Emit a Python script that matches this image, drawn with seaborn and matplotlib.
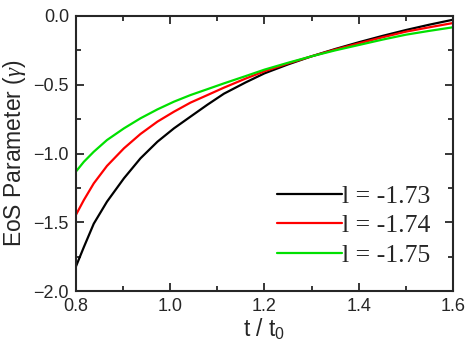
import numpy as np
import pandas as pd
import matplotlib
matplotlib.use("Agg")
import matplotlib.pyplot as plt
import seaborn as sns
from matplotlib.ticker import MultipleLocator

t_vals = [0.800, 0.817, 0.838, 0.866, 0.902, 0.937, 0.973, 1.008, 1.043, 1.079,
          1.114, 1.160, 1.200, 1.250, 1.300, 1.350, 1.400, 1.450, 1.500, 1.550, 1.600]
gamma_173 = [-1.823, -1.680, -1.510, -1.350, -1.180, -1.035, -0.914, -0.817, -0.732, -0.645,
             -0.565, -0.483, -0.417, -0.352, -0.293, -0.240, -0.191, -0.145, -0.102, -0.063, -0.027]
gamma_174 = [-1.447, -1.338, -1.217, -1.090, -0.962, -0.858, -0.768, -0.696, -0.630, -0.575,
             -0.521, -0.455, -0.402, -0.345, -0.293, -0.244, -0.199, -0.155, -0.114, -0.082, -0.051]
gamma_175 = [-1.132, -1.060, -0.987, -0.902, -0.817, -0.744, -0.679, -0.623, -0.575, -0.532,
             -0.490, -0.437, -0.390, -0.340, -0.293, -0.250, -0.211, -0.172, -0.136, -0.108, -0.082]
labels = ["l = -1.73", "l = -1.74", "l = -1.75"]
colors = ["#000000", "#ff0000", "#00e000"]

df = pd.concat([
    pd.DataFrame({"t": t_vals, "gamma": g, "series": lab})
    for g, lab in zip([gamma_173, gamma_174, gamma_175], labels)
])

sns.set_style("ticks")
plt.rcParams["font.family"] = ["Liberation Sans", "DejaVu Sans"]
plt.rcParams["mathtext.fontset"] = "custom"
plt.rcParams["mathtext.rm"] = "Liberation Sans"
plt.rcParams["mathtext.it"] = "Liberation Serif:italic"

fig = plt.figure(figsize=(4.74, 3.55), dpi=100)
ax = fig.add_axes([0.160, 0.180, 0.796, 0.775])

sns.lineplot(data=df, x="t", y="gamma", hue="series", palette=colors,
             linewidth=1.6, ax=ax, legend=True, sort=True)

ax.set_xlim(0.8, 1.6)
ax.set_ylim(-2.0, 0.0)
ax.xaxis.set_major_locator(MultipleLocator(0.2))
ax.xaxis.set_minor_locator(MultipleLocator(0.1))
ax.yaxis.set_major_locator(MultipleLocator(0.5))
ax.yaxis.set_minor_locator(MultipleLocator(0.25))
ax.tick_params(which="both", direction="in", top=True, right=True, width=1.3,
               labelsize=13, pad=5)
ax.tick_params(which="major", length=6)
ax.tick_params(which="minor", length=3.5)
for s in ax.spines.values():
    s.set_linewidth(1.5)
    s.set_visible(True)

ax.set_xlabel(r"t / t$_0$", fontsize=16.5, labelpad=1)
ax.set_ylabel(r"EoS Parameter ($\gamma$)", fontsize=16.5, labelpad=4)

leg = ax.legend(loc="lower right", frameon=False, handlelength=2.5,
                handletextpad=0.0, labelspacing=0.25,
                prop={"family": "Liberation Serif", "size": 18.5},
                bbox_to_anchor=(1.0, 0.005))
for line in leg.get_lines():
    line.set_linewidth(1.6)

fig.savefig("out.png", dpi=100)
